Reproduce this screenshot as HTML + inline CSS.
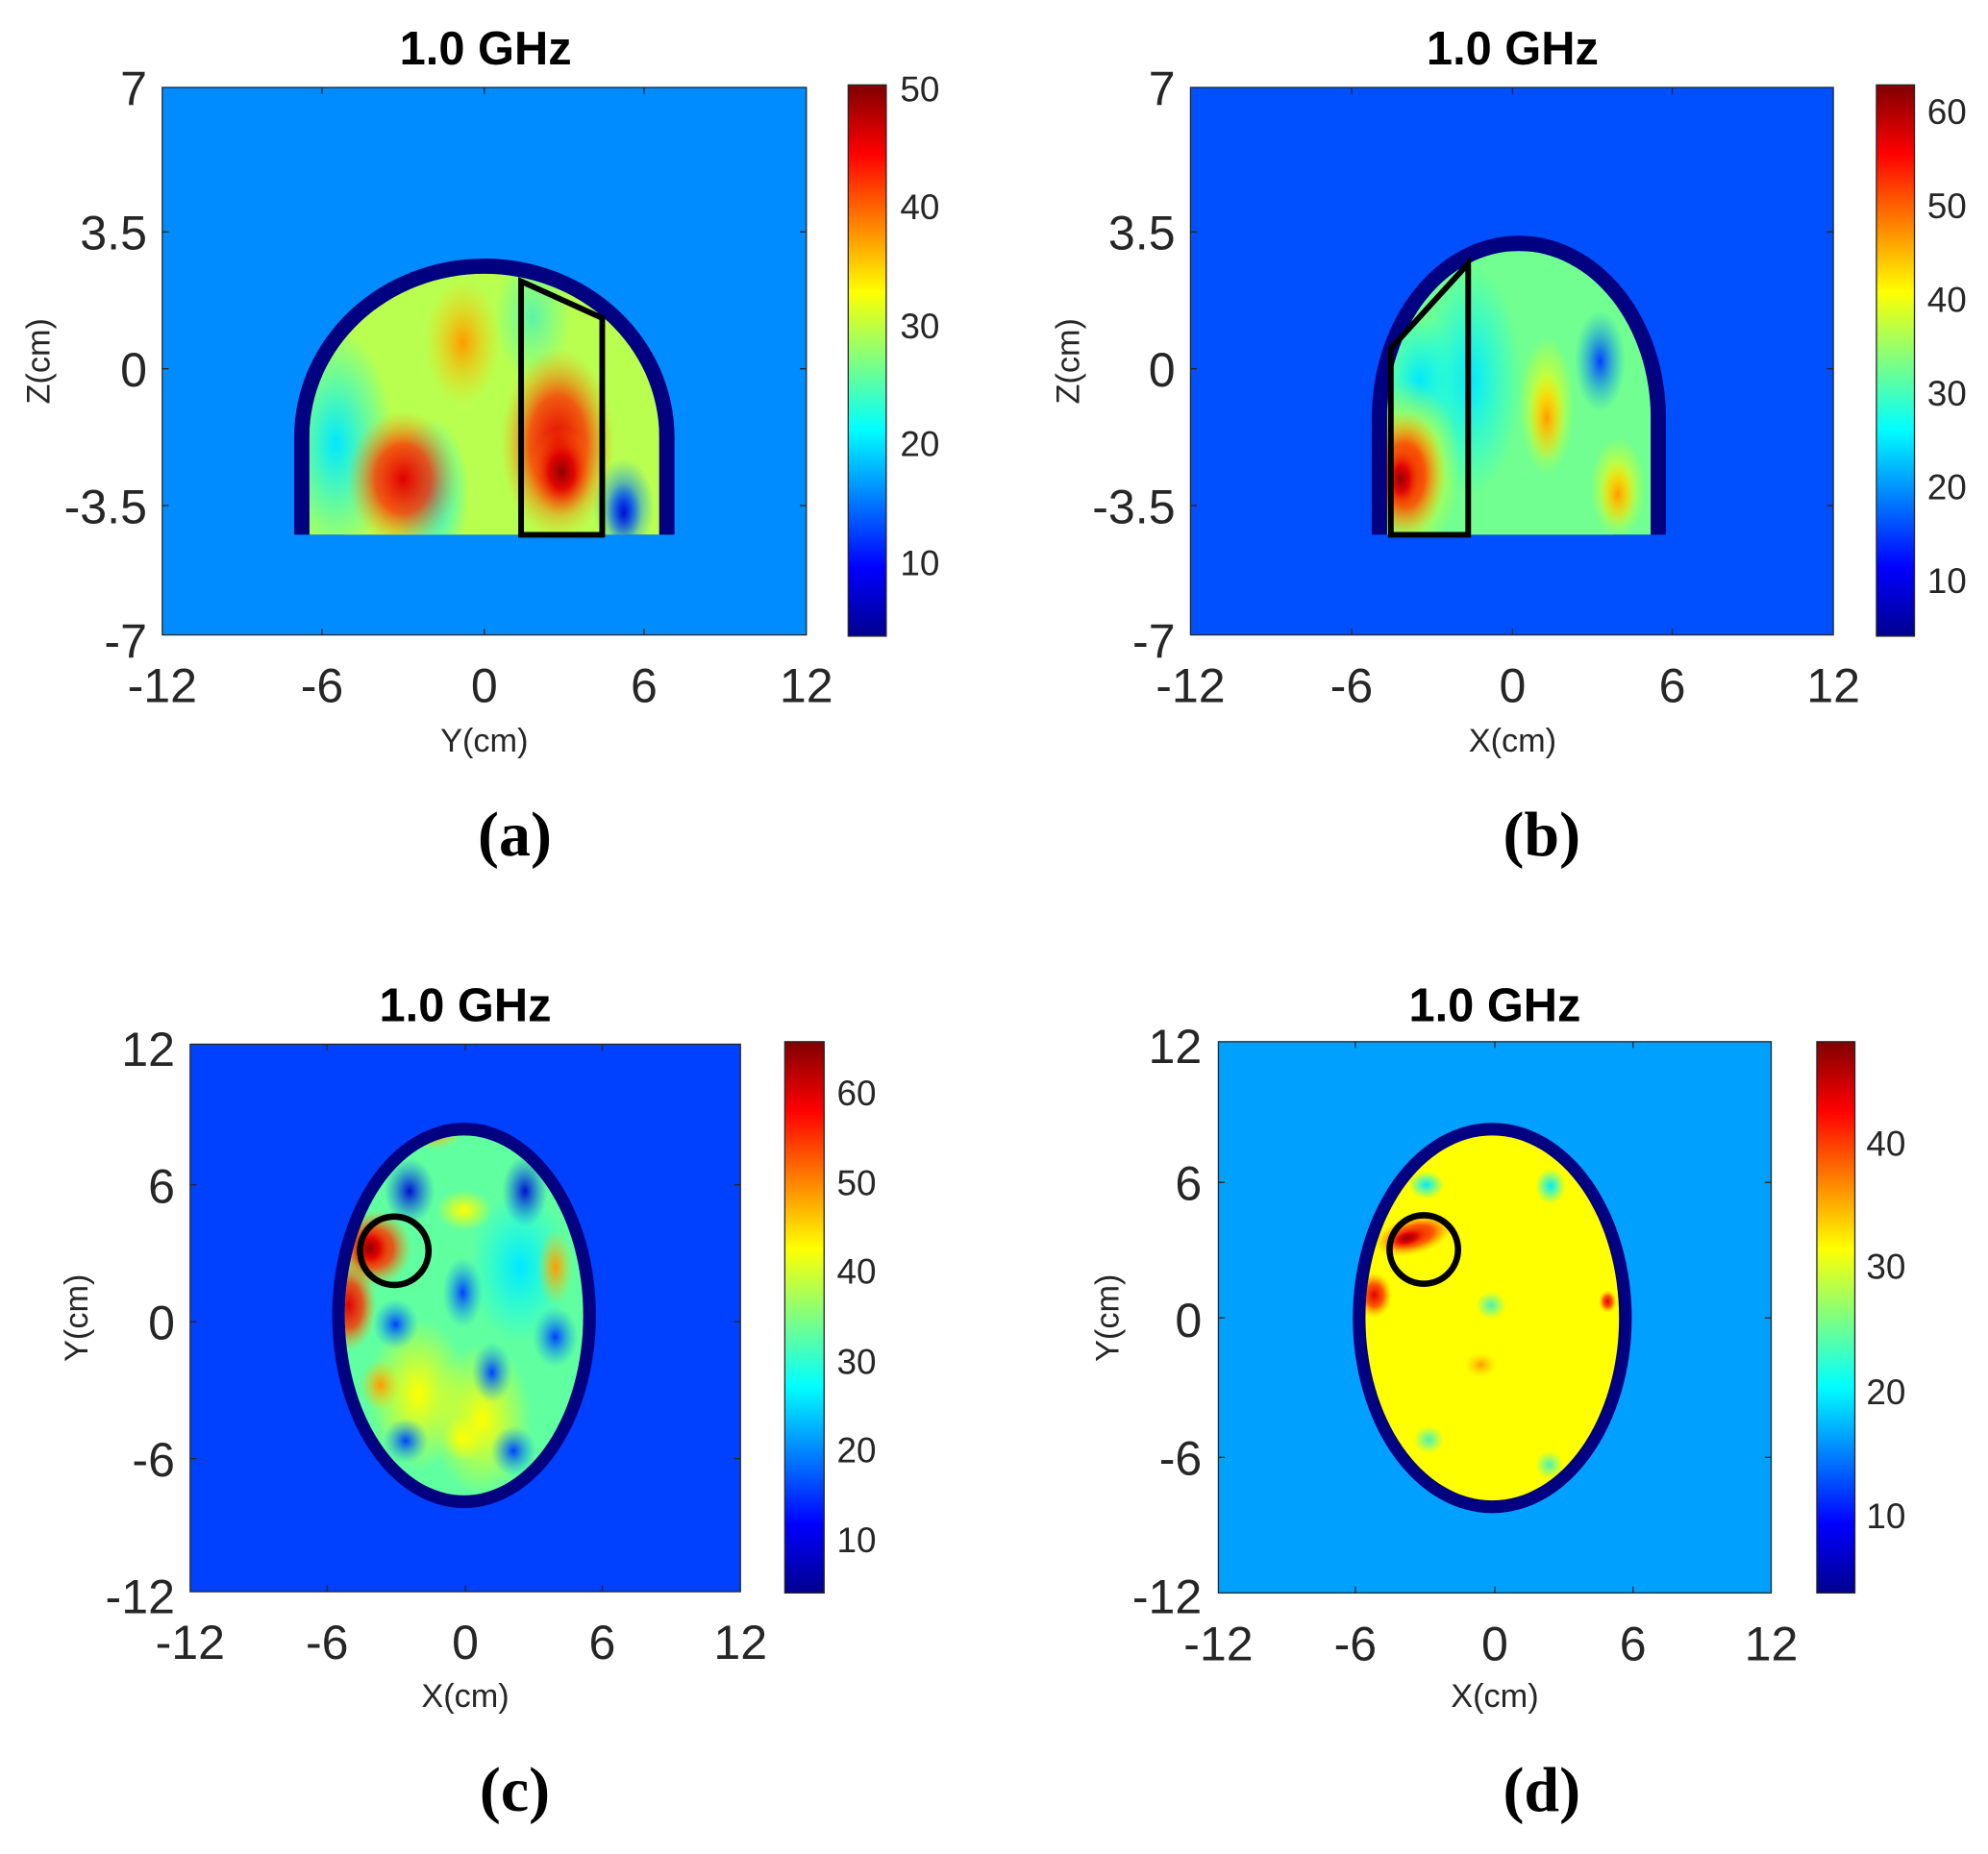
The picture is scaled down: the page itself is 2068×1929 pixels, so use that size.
<!DOCTYPE html>
<html><head><meta charset="utf-8"><style>
html,body{margin:0;padding:0;background:#fff;}
svg{display:block;}
text{font-family:"Liberation Sans",sans-serif;fill:#262626;}
.t{font-weight:bold;font-size:37px;fill:#000;}
.tk{font-size:38px;}
.cb{font-size:28px;}
.al{font-size:26px;}
.pl{font-family:"Liberation Serif",serif;font-weight:bold;font-size:50px;fill:#000;}
</style></head><body>
<svg width="2068" height="1929" viewBox="0 0 1568 1463" preserveAspectRatio="none" xmlns="http://www.w3.org/2000/svg">
<defs>
<linearGradient id="jet" x1="0" y1="1" x2="0" y2="0">
<stop offset="0" stop-color="#00008f"/><stop offset="0.125" stop-color="#0000ff"/>
<stop offset="0.375" stop-color="#00ffff"/><stop offset="0.625" stop-color="#ffff00"/>
<stop offset="0.875" stop-color="#ff0000"/><stop offset="1" stop-color="#800000"/>
</linearGradient>
<radialGradient id="gR"><stop offset="0" stop-color="#e00000"/><stop offset="0.5" stop-color="#ff3000" stop-opacity="0.8"/><stop offset="1" stop-color="#ffa000" stop-opacity="0"/></radialGradient>
<radialGradient id="gDR"><stop offset="0" stop-color="#900000"/><stop offset="0.4" stop-color="#e00000" stop-opacity="0.9"/><stop offset="1" stop-color="#ff8000" stop-opacity="0"/></radialGradient>
<radialGradient id="gO"><stop offset="0" stop-color="#ff9a00"/><stop offset="1" stop-color="#ffd000" stop-opacity="0"/></radialGradient>
<radialGradient id="gY"><stop offset="0" stop-color="#ffff00"/><stop offset="1" stop-color="#ffff00" stop-opacity="0"/></radialGradient>
<radialGradient id="gC"><stop offset="0" stop-color="#00e8ff"/><stop offset="1" stop-color="#00ffff" stop-opacity="0"/></radialGradient>
<radialGradient id="gB"><stop offset="0" stop-color="#0040ff"/><stop offset="1" stop-color="#00a0ff" stop-opacity="0"/></radialGradient>
<radialGradient id="gDB"><stop offset="0" stop-color="#0010d0"/><stop offset="1" stop-color="#0060ff" stop-opacity="0"/></radialGradient>
<clipPath id="half"><rect x="0" y="0" width="1568" height="422"/></clipPath>
<clipPath id="ca"><ellipse cx="382" cy="345" rx="138" ry="129"/><rect x="244" y="345" width="276" height="77"/></clipPath>
<clipPath id="cb2"><ellipse cx="1198" cy="330" rx="104" ry="132"/><rect x="1094" y="330" width="208" height="92"/></clipPath>
<clipPath id="cc"><ellipse cx="366" cy="1038" rx="94" ry="142"/></clipPath>
<clipPath id="cd"><ellipse cx="1177" cy="1040" rx="100" ry="144"/></clipPath>
</defs>

<!-- ===== Panel a ===== -->
<text class="t" x="383" y="51" text-anchor="middle">1.0 GHz</text>
<rect x="128" y="69" width="508" height="432" fill="#008cff"/>
<g clip-path="url(#half)">
<ellipse cx="382" cy="345" rx="150" ry="141" fill="#000080"/>
<rect x="232" y="345" width="300" height="77" fill="#000080"/>
<g clip-path="url(#ca)">
<rect x="230" y="200" width="310" height="230" fill="#b8ff50"/>
<ellipse cx="265" cy="350" rx="45" ry="90" fill="url(#gC)"/>
<ellipse cx="340" cy="390" rx="30" ry="60" fill="url(#gC)"/>
<ellipse cx="318" cy="378" rx="44" ry="54" fill="url(#gR)"/>
<ellipse cx="365" cy="270" rx="30" ry="50" fill="url(#gO)"/>
<ellipse cx="420" cy="250" rx="30" ry="50" fill="url(#gC)" opacity="0.5"/>
<ellipse cx="440" cy="350" rx="45" ry="75" fill="url(#gR)"/>
<ellipse cx="443" cy="372" rx="25" ry="35" fill="url(#gDR)"/>
<ellipse cx="492" cy="400" rx="24" ry="38" fill="url(#gB)"/>
<ellipse cx="492" cy="405" rx="14" ry="24" fill="url(#gDB)"/>
</g>
</g>
<polygon points="411,222 475,251 475,422 411,422" fill="none" stroke="#000" stroke-width="4.5"/>
<rect x="128" y="69" width="508" height="432" fill="none" stroke="#262626" stroke-width="1"/>
<g stroke="#262626" stroke-width="1">
<path d="M128,183h5M128,291h5M128,399h5M636,183h-5M636,291h-5M636,399h-5M254,501v-5M382,501v-5M508,501v-5M254,69v5M382,69v5M508,69v5"/>
</g>
<g class="tk" text-anchor="end"><text x="116" y="83">7</text><text x="116" y="197">3.5</text><text x="116" y="305">0</text><text x="116" y="413">-3.5</text><text x="116" y="519">-7</text></g>
<g class="tk" text-anchor="middle"><text x="128" y="554">-12</text><text x="254" y="554">-6</text><text x="382" y="554">0</text><text x="508" y="554">6</text><text x="636" y="554">12</text></g>
<text class="al" x="382" y="593" text-anchor="middle">Y(cm)</text>
<text class="al" transform="translate(39,285) rotate(-90)" text-anchor="middle">Z(cm)</text>
<rect x="669" y="67" width="30" height="435" fill="url(#jet)" stroke="#262626" stroke-width="1"/>
<g class="cb"><text x="710" y="80">50</text><text x="710" y="173">40</text><text x="710" y="267">30</text><text x="710" y="360">20</text><text x="710" y="454">10</text></g>
<text class="pl" x="406" y="675" text-anchor="middle">(a)</text>

<!-- ===== Panel b ===== -->
<text class="t" x="1193" y="51" text-anchor="middle">1.0 GHz</text>
<rect x="939" y="69" width="507" height="432" fill="#0050ff"/>
<g clip-path="url(#half)">
<ellipse cx="1198" cy="330" rx="116" ry="144" fill="#000080"/>
<rect x="1082" y="330" width="232" height="92" fill="#000080"/>
<g clip-path="url(#cb2)">
<rect x="1080" y="180" width="240" height="250" fill="#70ff90"/>
<ellipse cx="1160" cy="300" rx="40" ry="90" fill="url(#gC)"/>
<ellipse cx="1120" cy="300" rx="30" ry="50" fill="url(#gC)"/>
<ellipse cx="1262" cy="285" rx="20" ry="40" fill="url(#gB)"/>
<ellipse cx="1220" cy="320" rx="22" ry="55" fill="url(#gY)"/>
<ellipse cx="1220" cy="330" rx="14" ry="35" fill="url(#gO)"/>
<ellipse cx="1276" cy="385" rx="22" ry="40" fill="url(#gY)"/>
<ellipse cx="1276" cy="390" rx="14" ry="26" fill="url(#gO)"/>
<ellipse cx="1112" cy="370" rx="40" ry="70" fill="url(#gY)"/>
<ellipse cx="1108" cy="375" rx="32" ry="50" fill="url(#gR)"/>
<ellipse cx="1105" cy="378" rx="16" ry="26" fill="url(#gDR)"/>
</g>
</g>
<polygon points="1097,275 1158,208 1158,422 1097,422" fill="none" stroke="#000" stroke-width="4.5"/>
<rect x="939" y="69" width="507" height="432" fill="none" stroke="#262626" stroke-width="1"/>
<g stroke="#262626" stroke-width="1">
<path d="M939,183h5M939,291h5M939,399h5M1446,183h-5M1446,291h-5M1446,399h-5M1066,501v-5M1193,501v-5M1319,501v-5M1066,69v5M1193,69v5M1319,69v5"/>
</g>
<g class="tk" text-anchor="end"><text x="927" y="83">7</text><text x="927" y="197">3.5</text><text x="927" y="305">0</text><text x="927" y="413">-3.5</text><text x="927" y="519">-7</text></g>
<g class="tk" text-anchor="middle"><text x="939" y="554">-12</text><text x="1066" y="554">-6</text><text x="1193" y="554">0</text><text x="1319" y="554">6</text><text x="1446" y="554">12</text></g>
<text class="al" x="1193" y="593" text-anchor="middle">X(cm)</text>
<text class="al" transform="translate(851,285) rotate(-90)" text-anchor="middle">Z(cm)</text>
<rect x="1480" y="67" width="30" height="435" fill="url(#jet)" stroke="#262626" stroke-width="1"/>
<g class="cb"><text x="1520" y="98">60</text><text x="1520" y="172">50</text><text x="1520" y="246">40</text><text x="1520" y="320">30</text><text x="1520" y="394">20</text><text x="1520" y="468">10</text></g>
<text class="pl" x="1216" y="675" text-anchor="middle">(b)</text>

<!-- ===== Panel c ===== -->
<text class="t" x="367" y="806" text-anchor="middle">1.0 GHz</text>
<rect x="150" y="824" width="434" height="432" fill="#0040ff"/>
<ellipse cx="366" cy="1038" rx="104" ry="152" fill="#000080"/>
<g clip-path="url(#cc)">
<rect x="260" y="880" width="215" height="320" fill="#60ffa0"/>
<ellipse cx="330" cy="1100" rx="40" ry="60" fill="url(#gY)"/>
<ellipse cx="380" cy="1120" rx="40" ry="60" fill="url(#gY)"/>
<ellipse cx="410" cy="1000" rx="40" ry="60" fill="url(#gC)"/>
<ellipse cx="323" cy="940" rx="20" ry="26" fill="url(#gDB)"/>
<ellipse cx="414" cy="940" rx="18" ry="28" fill="url(#gDB)"/>
<ellipse cx="365" cy="1020" rx="16" ry="28" fill="url(#gB)"/>
<ellipse cx="312" cy="1045" rx="18" ry="20" fill="url(#gB)"/>
<ellipse cx="438" cy="1055" rx="18" ry="24" fill="url(#gB)"/>
<ellipse cx="388" cy="1083" rx="16" ry="24" fill="url(#gB)"/>
<ellipse cx="320" cy="1137" rx="18" ry="18" fill="url(#gB)"/>
<ellipse cx="405" cy="1145" rx="18" ry="20" fill="url(#gB)"/>
<ellipse cx="366" cy="955" rx="22" ry="16" fill="url(#gY)"/>
<ellipse cx="300" cy="1093" rx="16" ry="20" fill="url(#gO)"/>
<ellipse cx="438" cy="1000" rx="14" ry="30" fill="url(#gO)"/>
<ellipse cx="365" cy="1135" rx="16" ry="18" fill="url(#gY)"/>
<ellipse cx="295" cy="985" rx="30" ry="30" fill="url(#gR)"/>
<ellipse cx="292" cy="985" rx="18" ry="20" fill="url(#gDR)"/>
<ellipse cx="275" cy="1030" rx="22" ry="36" fill="url(#gR)"/>
<ellipse cx="342" cy="895" rx="22" ry="12" fill="url(#gO)"/>
</g>
<circle cx="311" cy="987" r="27" fill="none" stroke="#000" stroke-width="5"/>
<rect x="150" y="824" width="434" height="432" fill="none" stroke="#262626" stroke-width="1"/>
<g stroke="#262626" stroke-width="1">
<path d="M150,935h5M150,1043h5M150,1151h5M584,935h-5M584,1043h-5M584,1151h-5M258,1256v-5M367,1256v-5M475,1256v-5M258,824v5M367,824v5M475,824v5"/>
</g>
<g class="tk" text-anchor="end"><text x="138" y="841">12</text><text x="138" y="949">6</text><text x="138" y="1057">0</text><text x="138" y="1165">-6</text><text x="138" y="1273">-12</text></g>
<g class="tk" text-anchor="middle"><text x="150" y="1309">-12</text><text x="258" y="1309">-6</text><text x="367" y="1309">0</text><text x="475" y="1309">6</text><text x="584" y="1309">12</text></g>
<text class="al" x="367" y="1347" text-anchor="middle">X(cm)</text>
<text class="al" transform="translate(69,1040) rotate(-90)" text-anchor="middle">Y(cm)</text>
<rect x="619" y="822" width="31" height="435" fill="url(#jet)" stroke="#262626" stroke-width="1"/>
<g class="cb"><text x="660" y="872">60</text><text x="660" y="943">50</text><text x="660" y="1013">40</text><text x="660" y="1084">30</text><text x="660" y="1154">20</text><text x="660" y="1225">10</text></g>
<text class="pl" x="406" y="1429" text-anchor="middle">(c)</text>

<!-- ===== Panel d ===== -->
<text class="t" x="1179" y="806" text-anchor="middle">1.0 GHz</text>
<rect x="961" y="822" width="436" height="435" fill="#00a0ff"/>
<ellipse cx="1177" cy="1040" rx="110" ry="154" fill="#000080"/>
<g clip-path="url(#cd)">
<rect x="1070" y="890" width="220" height="300" fill="#ffff00"/>
<ellipse cx="1125" cy="935" rx="14" ry="11" fill="url(#gC)"/>
<ellipse cx="1223" cy="936" rx="12" ry="14" fill="url(#gC)"/>
<ellipse cx="1176" cy="1030" rx="12" ry="11" fill="url(#gC)" opacity="0.7"/>
<ellipse cx="1127" cy="1136" rx="12" ry="11" fill="url(#gC)" opacity="0.7"/>
<ellipse cx="1222" cy="1156" rx="11" ry="11" fill="url(#gC)" opacity="0.7"/>
<ellipse cx="1115" cy="975" rx="32" ry="15" fill="url(#gR)" transform="rotate(-15 1115 975)"/>
<ellipse cx="1110" cy="977" rx="18" ry="9" fill="url(#gDR)" transform="rotate(-15 1110 977)"/>
<ellipse cx="1084" cy="1022" rx="14" ry="18" fill="url(#gR)"/>
<ellipse cx="1168" cy="1077" rx="13" ry="10" fill="url(#gO)"/>
<ellipse cx="1268" cy="1027" rx="7" ry="9" fill="url(#gR)"/>
</g>
<circle cx="1123" cy="986" r="27" fill="none" stroke="#000" stroke-width="5"/>
<rect x="961" y="822" width="436" height="435" fill="none" stroke="#262626" stroke-width="1"/>
<g stroke="#262626" stroke-width="1">
<path d="M961,933h5M961,1040h5M961,1150h5M1397,933h-5M1397,1040h-5M1397,1150h-5M1069,1257v-5M1179,1257v-5M1288,1257v-5M1069,822v5M1179,822v5M1288,822v5"/>
</g>
<g class="tk" text-anchor="end"><text x="948" y="839">12</text><text x="948" y="947">6</text><text x="948" y="1055">0</text><text x="948" y="1164">-6</text><text x="948" y="1273">-12</text></g>
<g class="tk" text-anchor="middle"><text x="961" y="1310">-12</text><text x="1069" y="1310">-6</text><text x="1179" y="1310">0</text><text x="1288" y="1310">6</text><text x="1397" y="1310">12</text></g>
<text class="al" x="1179" y="1347" text-anchor="middle">X(cm)</text>
<text class="al" transform="translate(882,1040) rotate(-90)" text-anchor="middle">Y(cm)</text>
<rect x="1433" y="822" width="30" height="435" fill="url(#jet)" stroke="#262626" stroke-width="1"/>
<g class="cb"><text x="1472" y="912">40</text><text x="1472" y="1009">30</text><text x="1472" y="1108">20</text><text x="1472" y="1206">10</text></g>
<text class="pl" x="1216" y="1429" text-anchor="middle">(d)</text>
</svg>
</body></html>
